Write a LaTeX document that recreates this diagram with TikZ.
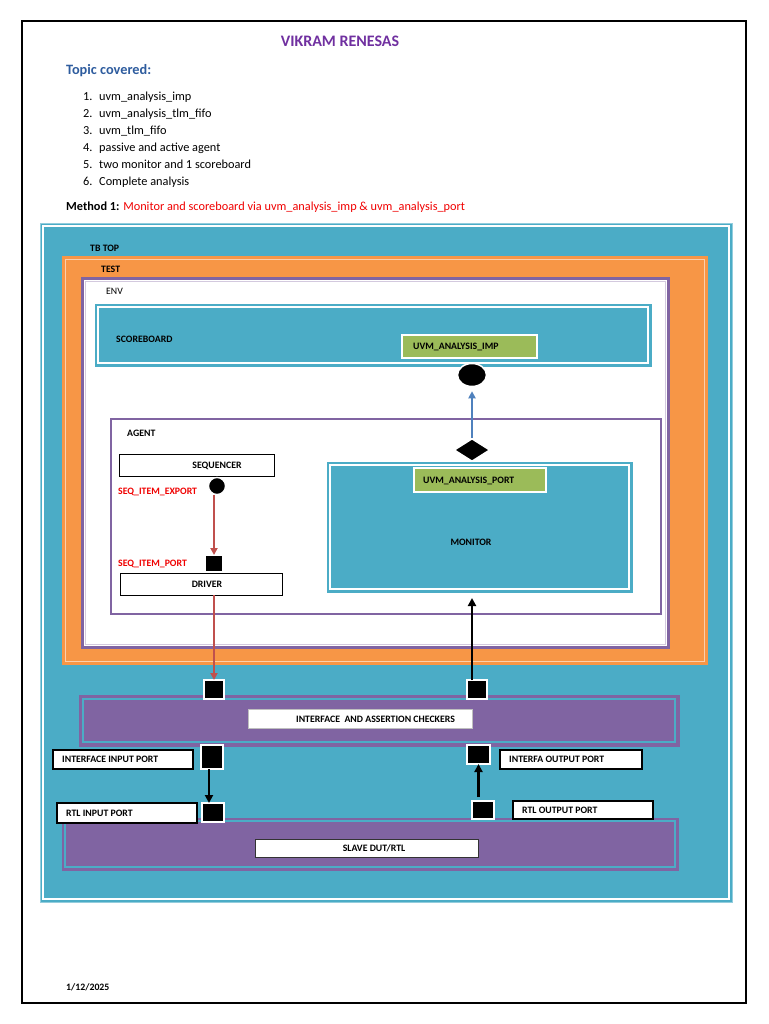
\documentclass[tikz,border=0pt]{standalone}
\usepackage{fontspec}
\setmainfont{Carlito}
\usetikzlibrary{shapes.geometric,arrows.meta}
\definecolor{tealc}{HTML}{4BACC6}
\definecolor{orng}{HTML}{F79646}
\definecolor{purp}{HTML}{8064A2}
\definecolor{grn}{HTML}{9BBB59}
\definecolor{redarr}{HTML}{C0504D}
\definecolor{bluearr}{HTML}{4F81BD}
\definecolor{titlep}{HTML}{7030A0}
\definecolor{topicb}{HTML}{2E5C9E}
\definecolor{redtxt}{HTML}{F00000}
\newcommand\insetline[3]{\draw[#3] ([shift={(#2,#2)}]#1.north west) rectangle ([shift={(-#2,-#2)}]#1.south east);}
\begin{document}
\begin{tikzpicture}[x=1pt,y=-1pt,
  sz/.style 2 args={minimum width=#1pt, minimum height=#2pt},
  region/.style={anchor=north west, inner sep=0pt, outer sep=0pt},
  lbl/.style={font=\bfseries\fontsize{9.8}{11}\selectfont, inner sep=0pt, anchor=base west, yshift=-3.2pt},
  clbl/.style={lbl, anchor=base},
  redlbl/.style={lbl, text=redtxt},
  itemtxt/.style={font=\fontsize{12.3}{14}\selectfont, inner sep=0pt, anchor=base west, yshift=-4pt},
  port/.style={region, fill=black, draw=white, line width=1.8pt},
  tag/.style={region, fill=white, draw=black, line width=1.6pt},
  plain/.style={region, fill=white, draw=black, line width=0.9pt},
  greenbox/.style={region, fill=grn, draw=white, line width=2pt},
  redarrow/.style={draw=redarr, line width=2.2pt, -{Triangle[length=7pt,width=7pt]}},
  bluearrow/.style={draw=bluearr, line width=2pt, -{Triangle[length=7pt,width=7pt]}},
  blkarrow/.style={draw=black, line width=2.2pt, -{Triangle[length=8pt,width=8pt]}}
]
\useasboundingbox (0,0) rectangle (768,1024);

% page frame
\node[region, sz={724}{982}, draw=black, line width=1.3pt] (page) at (22,21) {};

% header
\node[font=\bfseries\fontsize{16}{18}\selectfont, text=titlep, inner sep=0pt] (title) at (340,41) {VIKRAM RENESAS};
\node[anchor=west, inner sep=0pt, font=\bfseries\fontsize{14.3}{16}\selectfont, text=topicb] (topic) at (66,71) {Topic covered:};
\node[itemtxt] (n1) at (83,97) {1.};  \node[itemtxt] (t1) at (99,97) {uvm\_analysis\_imp};
\node[itemtxt] (n2) at (83,114) {2.}; \node[itemtxt] (t2) at (99,114) {uvm\_analysis\_tlm\_fifo};
\node[itemtxt] (n3) at (83,131) {3.}; \node[itemtxt] (t3) at (99,131) {uvm\_tlm\_fifo};
\node[itemtxt] (n4) at (83,148) {4.}; \node[itemtxt] (t4) at (99,148) {passive and active agent};
\node[itemtxt] (n5) at (83,165) {5.}; \node[itemtxt] (t5) at (99,165) {two monitor and 1 scoreboard};
\node[itemtxt] (n6) at (83,182) {6.}; \node[itemtxt] (t6) at (99,182) {Complete analysis};
\node[itemtxt] (method) at (66,207) {\textbf{Method 1:} \textcolor{redtxt}{Monitor and scoreboard via uvm\_analysis\_imp \& uvm\_analysis\_port}};

% TB TOP
\node[region, sz={692}{679}, fill=tealc, draw=tealc!60!white, line width=0.8pt] (tbtop) at (40,223) {};
\insetline{tbtop}{3}{white, line width=1.3pt}
\node[lbl] (tbtoplbl) at (90,248) {TB TOP};

% TEST
\node[region, sz={645}{408}, fill=orng, draw=orng, line width=0.8pt] (test) at (62,256) {};
\insetline{test}{3}{orng!45!white, line width=1pt}
\node[lbl] (testlbl) at (101,269) {TEST};

% ENV
\node[region, sz={586}{369}, fill=white, draw=purp, line width=3pt] (env) at (82,278) {};
\insetline{env}{3}{purp!35!white, line width=0.8pt}
\node[lbl, font=\fontsize{9.8}{11}\selectfont] (envlbl) at (106,291) {ENV};

% SCOREBOARD
\node[region, sz={556}{62}, fill=tealc, draw=tealc, line width=0.8pt] (sb) at (95,304) {};
\insetline{sb}{3}{white, line width=1.2pt}
\node[lbl] (sblbl) at (116,339) {SCOREBOARD};
\node[greenbox, sz={135}{23}] (imp) at (402,335) {};
\node[lbl] (implbl) at (413,346.5) {UVM\_ANALYSIS\_IMP};
\node[ellipse, fill=black, draw=white, line width=1.5pt, minimum width=29pt, minimum height=23pt, inner sep=0pt] (impc) at (472,375) {};

% AGENT
\node[region, sz={550}{195}, fill=white, draw=purp, line width=2pt] (agent) at (111,419) {};
\node[lbl] (agentlbl) at (127,433) {AGENT};
\node[diamond, fill=black, draw=white, line width=1.5pt, minimum width=36pt, minimum height=23pt, inner sep=0pt] (dia) at (472,450) {};

\node[plain, sz={155}{22}] (seq) at (119,454) {};
\node[clbl] (seqlbl) at (217,465) {SEQUENCER};
\node[circle, fill=black, draw=white, line width=1.3pt, minimum size=17pt, inner sep=0pt] (seqc) at (217,486) {};
\node[redlbl] (exportlbl) at (118,491) {SEQ\_ITEM\_EXPORT};
\node[port, sz={18}{17}] (sqp) at (205,555) {};
\node[redlbl] (portlbl) at (118,563) {SEQ\_ITEM\_PORT};
\node[plain, sz={162}{22}] (drv) at (120,573) {};
\node[clbl] (drvlbl) at (207,584) {DRIVER};

% MONITOR
\node[region, sz={305}{130}, fill=tealc, draw=tealc, line width=0.8pt] (mon) at (327,462) {};
\insetline{mon}{3}{white, line width=1.2pt}
\node[greenbox, sz={132}{24}] (ap) at (414,468) {};
\node[lbl] (aplbl) at (423,480) {UVM\_ANALYSIS\_PORT};
\node[clbl] (monlbl) at (471,542) {MONITOR};

% INTERFACE
\node[region, sz={600}{51}, fill=purp, draw=purp, line width=0.8pt] (intf) at (79,695) {};
\insetline{intf}{4}{tealc, line width=1.2pt}
\node[region, sz={224}{19}, fill=white, draw=gray!50, line width=0.5pt] (intfbox) at (248,709) {};
\node[clbl] (intflbl) at (375.5,719) {INTERFACE\ \ AND ASSERTION CHECKERS};

% SLAVE DUT
\node[region, sz={616}{52}, fill=purp, draw=purp, line width=0.8pt] (dut) at (62,818) {};
\insetline{dut}{3}{tealc, line width=1.2pt}
\node[region, sz={223}{18}, fill=white, draw=black!80, line width=1pt] (dutbox) at (255,839) {};
\node[clbl] (dutlbl) at (374,848.5) {SLAVE DUT/RTL};

% ports
\node[port, sz={20}{19}] (sqa) at (204,680) {};
\node[port, sz={20}{19}] (sqb) at (467,680) {};
\node[port, sz={22}{24}] (sqc) at (201,745) {};
\node[port, sz={23}{19}] (sqe) at (467,745) {};
\node[port, sz={22}{19}] (sqd) at (202,803) {};
\node[port, sz={22}{18}] (sqf) at (472,801) {};

% port tags
\node[tag, sz={140}{19}] (iip) at (53,750) {};
\node[lbl] (iiplbl) at (62,759.5) {INTERFACE INPUT PORT};
\node[tag, sz={142}{19}] (iop) at (500,750) {};
\node[lbl] (ioplbl) at (509,759.5) {INTERFA OUTPUT PORT};
\node[tag, sz={140}{20}] (rip) at (57,803) {};
\node[lbl] (riplbl) at (66,813) {RTL INPUT PORT};
\node[tag, sz={140}{18}] (rop) at (513,801) {};
\node[lbl] (roplbl) at (522,810) {RTL OUTPUT PORT};

% connectors
\draw[bluearrow, shorten >=4pt] (dia.north) -- (dia.north |- impc.south);
\draw[redarrow] (seqc.south -| sqp.north) -- (sqp.north);
\draw[redarrow] (drv.south -| sqa.north) -- (sqa.north);
\draw[blkarrow, shorten >=6pt] ([xshift=-5pt]sqb.north) -- ([xshift=-5pt]sqb.north |- mon.south);
\draw[blkarrow] ([xshift=-3pt]sqc.south) -- ([xshift=-3pt]sqc.south |- sqd.north);
\draw[blkarrow, shorten <=4pt] (sqe.south |- sqf.north) -- (sqe.south);

% date
\node[lbl] (date) at (66,987) {1/12/2025};
\end{tikzpicture}
\end{document}
